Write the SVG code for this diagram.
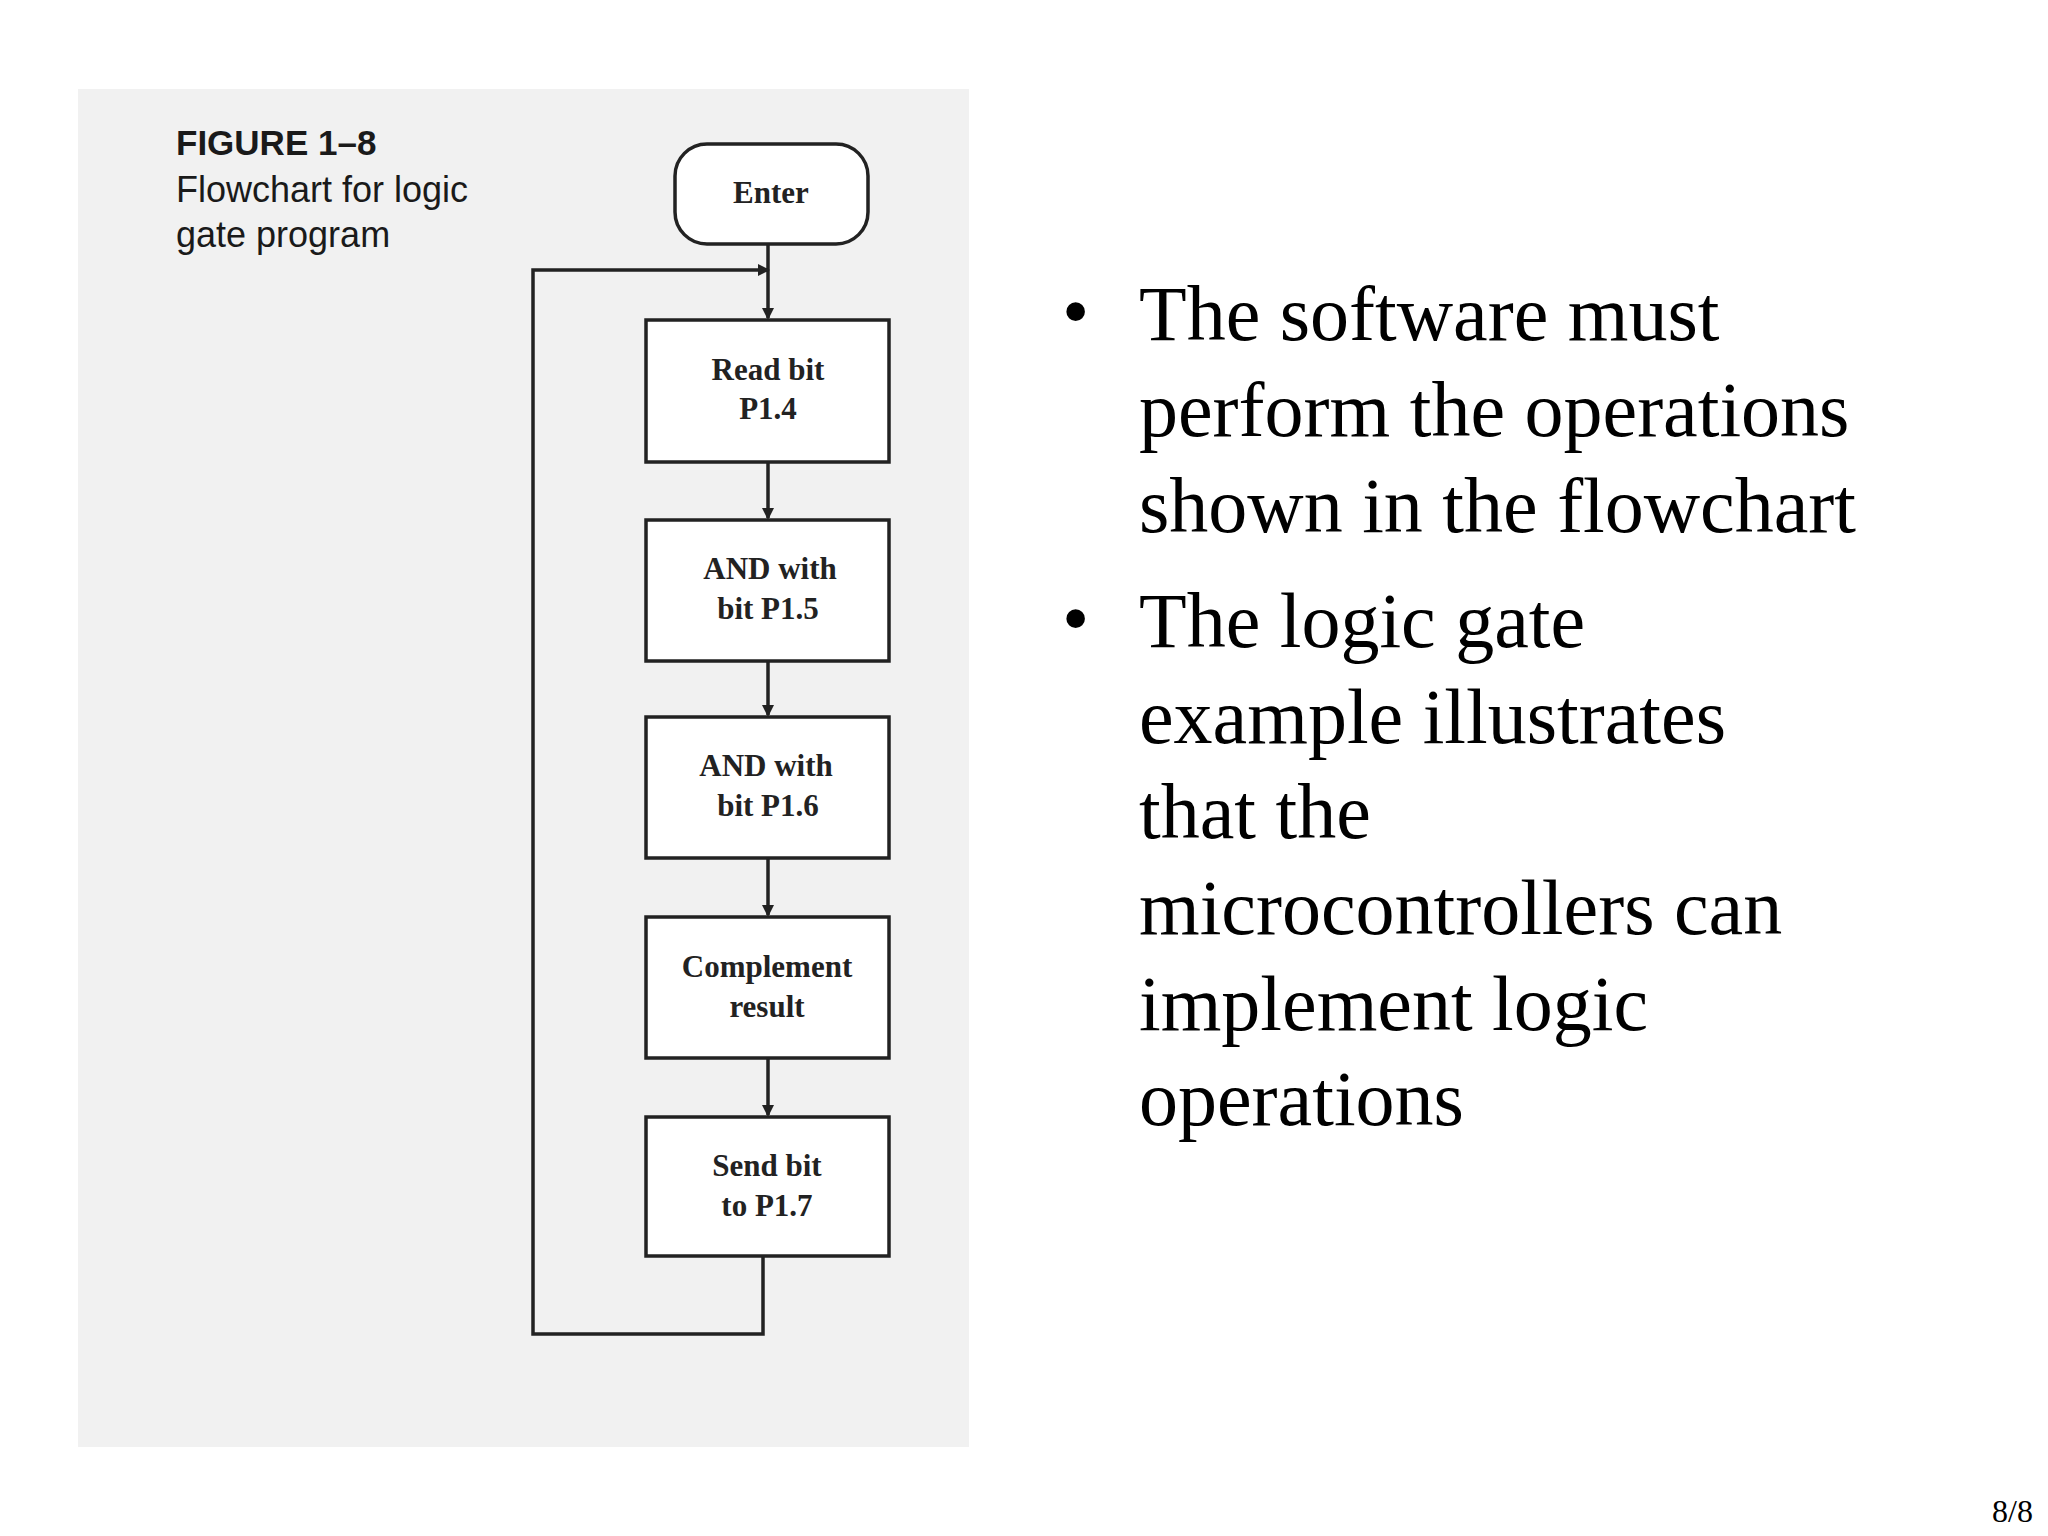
<svg xmlns="http://www.w3.org/2000/svg" width="2048" height="1536" viewBox="0 0 2048 1536">
<style>
.b{fill:#fff;stroke:#222;stroke-width:3.5}
.t{font-family:"Liberation Serif",serif;font-size:31px;font-weight:bold;fill:#222;text-anchor:middle}
.c{font-family:"Liberation Sans",sans-serif;fill:#1a1a1a}
.s{font-family:"Liberation Serif",serif;font-size:78px;fill:#000}
.l{fill:none;stroke:#222;stroke-width:3.5}
.p{font-family:"Liberation Serif",serif;font-size:32px;fill:#000}
</style>
<defs><marker id="a" markerWidth="12" markerHeight="12" refX="10" refY="6" orient="auto" markerUnits="userSpaceOnUse"><path d="M0,0 L12,6 L0,12 z" fill="#222"/></marker></defs>
<rect width="2048" height="1536" fill="#fff"/>
<rect x="78" y="89" width="891" height="1358" fill="#f1f1f1"/>
<text class="c" x="176" y="155" font-size="35" font-weight="bold">FIGURE 1–8</text>
<text class="c" x="176" y="202" font-size="36">Flowchart for logic</text>
<text class="c" x="176" y="247" font-size="36">gate program</text>
<g id="connectors">
<path class="l" d="M768,244 V318" marker-end="url(#a)"/>
<path class="l" d="M768,462 V518" marker-end="url(#a)"/>
<path class="l" d="M768,661 V715" marker-end="url(#a)"/>
<path class="l" d="M768,858 V915" marker-end="url(#a)"/>
<path class="l" d="M768,1058 V1115" marker-end="url(#a)"/>
<path class="l" d="M763,1256 V1334 H533 V270 H768" marker-end="url(#a)"/>
</g>
<g id="enter"><rect class="b" x="675" y="144" width="193" height="100" rx="32"/><text class="t" x="771" y="203">Enter</text></g>
<g id="read"><rect class="b" x="646" y="320" width="243" height="142"/><text class="t" x="768" y="380">Read bit</text><text class="t" x="768" y="419">P1.4</text></g>
<g id="and15"><rect class="b" x="646" y="520" width="243" height="141"/><text class="t" x="770" y="579">AND with</text><text class="t" x="768" y="619">bit P1.5</text></g>
<g id="and16"><rect class="b" x="646" y="717" width="243" height="141"/><text class="t" x="766" y="776">AND with</text><text class="t" x="768" y="816">bit P1.6</text></g>
<g id="compl"><rect class="b" x="646" y="917" width="243" height="141"/><text class="t" x="767" y="977">Complement</text><text class="t" x="767" y="1017">result</text></g>
<g id="send"><rect class="b" x="646" y="1117" width="243" height="139"/><text class="t" x="767" y="1176">Send bit</text><text class="t" x="767" y="1216">to P1.7</text></g>
<g id="bullets">
<text class="s" x="1062" y="338">•</text>
<text class="s" x="1139" y="340">The software must</text>
<text class="s" x="1139" y="436">perform the operations</text>
<text class="s" x="1139" y="532">shown in the flowchart</text>
<text class="s" x="1062" y="645">•</text>
<text class="s" x="1139" y="647">The logic gate</text>
<text class="s" x="1139" y="743">example illustrates</text>
<text class="s" x="1139" y="838">that the</text>
<text class="s" x="1139" y="934">microcontrollers can</text>
<text class="s" x="1139" y="1030">implement logic</text>
<text class="s" x="1139" y="1125">operations</text>
</g>
<text class="p" x="2033" y="1522" text-anchor="end">8/8</text>
</svg>
